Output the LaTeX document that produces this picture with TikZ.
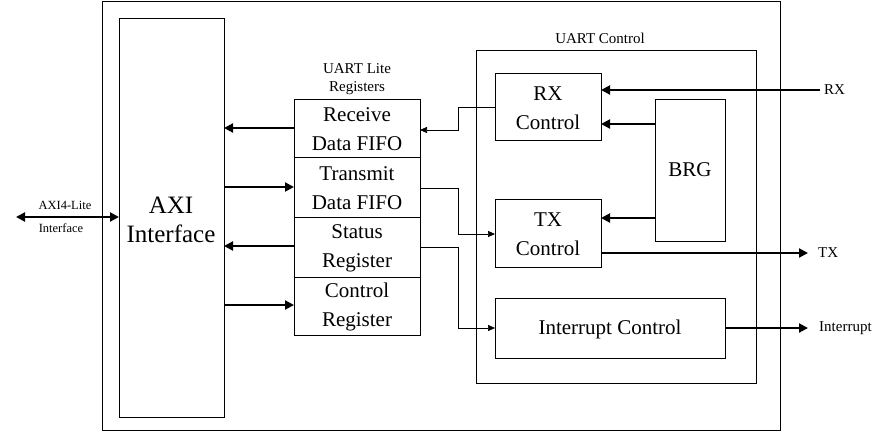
\documentclass[tikz,border=0pt]{standalone}
\usepackage{fontspec}
\setmainfont{Liberation Serif}
\usetikzlibrary{arrows.meta}
\begin{document}
\begin{tikzpicture}[x=1pt,y=-1pt,
 box/.style={draw,line width=0.8pt,inner sep=0pt},
 big/.style={font=\fontsize{25}{29}\selectfont,align=center},
 reg/.style={font=\fontsize{21}{29}\selectfont,align=center},
 sm/.style={font=\fontsize{15}{18}\selectfont,align=center},
 tiny/.style={font=\fontsize{12.5}{14}\selectfont},
 lab/.style={font=\fontsize{15}{17}\selectfont,inner sep=0pt},
 thick/.style={line width=2pt,-{Triangle[length=9pt,width=9pt]}},
 thin/.style={line width=0.7pt,-{Triangle[length=7pt,width=6pt]}}]
\useasboundingbox (0,0) rectangle (885,432);
\draw[line width=0.8pt] (102,1) rectangle (780,430);
\node[box,minimum width=105pt,minimum height=399pt] (axi) at (171.5,217.5) {};
\node[big] at (171,220) {AXI\\Interface};
\node[box,minimum width=126pt,minimum height=58pt] (r1) at (357,128) {};
\node[box,minimum width=126pt,minimum height=60pt] (r2) at (357,187) {};
\node[box,minimum width=126pt,minimum height=60pt] (r3) at (357,247) {};
\node[box,minimum width=126pt,minimum height=58pt] (r4) at (357,306) {};
\node[reg] at (357,129) {Receive\\Data FIFO};
\node[reg] at (357,188) {Transmit\\Data FIFO};
\node[reg] at (357,248) {Status\\Register};
\node[reg] at (357,307) {Control\\Register};
\node[sm] (rl) at (357,79) {UART Lite\\Registers};
\node[box,minimum width=280pt,minimum height=333pt] (uc) at (616,216.5) {};
\node[sm] (ucl) at (600,38) {UART Control};
\node[box,minimum width=106pt,minimum height=67pt] (rx) at (548,106.5) {};
\node[reg] at (548,108) {RX\\Control};
\node[box,minimum width=70pt,minimum height=142pt] (brg) at (690,170) {};
\node[reg] at (690,170) {BRG};
\node[box,minimum width=106pt,minimum height=68pt] (tx) at (548,233) {};
\node[reg] at (548,234) {TX\\Control};
\node[box,minimum width=230pt,minimum height=60pt] (ic) at (610,328) {};
\node[reg] at (610,329) {Interrupt Control};
% AXI <-> registers
\draw[thick] (294,128) -- (224,128);
\draw[thick] (224,187) -- (294,187);
\draw[thick] (294,246) -- (224,246);
\draw[thick] (224,305) -- (294,305);
% external
\coordinate (ext) at (16,217);
\draw[line width=2pt,{Triangle[length=9pt,width=9pt]}-{Triangle[length=9pt,width=9pt]}] (ext) -- (119,217);
\node[tiny] (al) at (65,205) {AXI4-Lite};
\node[tiny] (il) at (61,228) {Interface};
\node[lab,anchor=west] (rxl) at (824,90) {RX};
\node[lab,anchor=west] (txl) at (818,253) {TX};
\node[lab,anchor=west] (irl) at (819,328) {Interrupt};
\coordinate (rxe) at (820,90);
\coordinate (txe) at (808,253);
\coordinate (ire) at (808,328);
\draw[thick] (rxe) -- (601,90);
\draw[thick] (655,124) -- (601,124);
\draw[thick] (655,218) -- (601,218);
\draw[thick] (601,253) -- (txe);
\draw[thick] (725,328) -- (ire);
% thin connectors
\draw[thin] (495,107) -- (458,107) -- (458,130) -- (420,130);
\draw[thin] (420,188) -- (458,188) -- (458,234) -- (495,234);
\draw[thin] (420,247) -- (458,247) -- (458,328) -- (495,328);
\end{tikzpicture}
\end{document}
